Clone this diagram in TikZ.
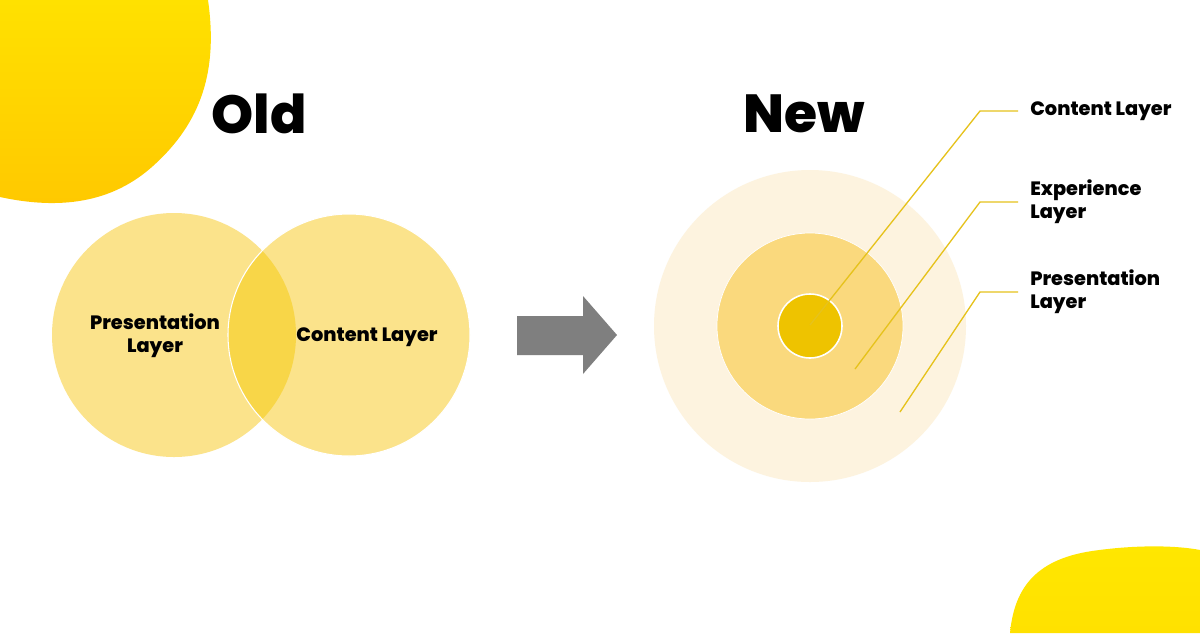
\documentclass[tikz,border=0pt]{standalone}
\usepackage{fontspec}
\setmainfont{Poppins}[BoldFont={* ExtraBold}]
\usetikzlibrary{arrows.meta}

\definecolor{blobtop}{HTML}{FFE100}
\definecolor{blobbottom}{HTML}{FFC800}
\definecolor{venn}{HTML}{FBE38B}
\definecolor{lens}{HTML}{F8D648}
\definecolor{ringout}{HTML}{FDF3DF}
\definecolor{ringmid}{HTML}{FAD97D}
\definecolor{core}{HTML}{EEC300}
\definecolor{leader}{HTML}{E6C21C}
\definecolor{arrowgray}{HTML}{7F7F7F}

\begin{document}
\begin{tikzpicture}[x=0.02cm, y=-0.02cm]
	\useasboundingbox (0,0) rectangle (1200,633);
	\fill[white] (0,0) rectangle (1200,633);
	% corner blobs
	\shade[top color=blobtop, bottom color=blobbottom] (0,0) -- (208,0)
		.. controls (218,70) and (202,122) .. (153,166)
		.. controls (112,203) and (60,210) .. (0,197) -- cycle;
	\shade[top color=blobtop!80!yellow, bottom color=blobtop] (1010,633)
		.. controls (1014,592) and (1032,560) .. (1092,551)
		.. controls (1140,544) and (1180,546) .. (1200,550) -- (1200,633) -- cycle;
	% old: two circles
	\fill[venn] (174,335) circle (122);
	\fill[venn] (349,335) circle (121);
	\begin{scope}
		\clip (174,335) circle (122);
		\fill[lens] (349,335) circle (121);
	\end{scope}
	\draw[white, line width=0.6pt] (349,335) circle (121);
	% arrow
	\fill[arrowgray] (517,316) -- (583,316) -- (583,296) -- (617,335)
		-- (583,374) -- (583,355) -- (517,355) -- cycle;
	% new: rings
	\fill[ringout] (810,326) circle (156);
	\draw[fill=ringmid, draw=white, line width=0.4pt] (810,326) circle (93);
	\draw[fill=core, draw=white, line width=0.9pt] (810,326) circle (32);
	\coordinate (cstart) at (810,325);
	\coordinate (cbend) at (980,111);
	\coordinate (estart) at (855,369);
	\coordinate (ebend) at (980,202);
	\coordinate (pstart) at (900,412);
	\coordinate (pbend) at (980,292);
	\begin{scope}[every node/.style={font=\bfseries\fontsize{11}{13}\selectfont, align=left}]
		\node (oldpres) at (155,336) [align=center] {Presentation\\Layer};
		\node (oldcont) at (367,337) {Content Layer};
		\node [anchor=west, inner xsep=6.8pt, inner ysep=0pt] (contlbl) at (1018,111) {Content Layer};
		\node [anchor=west, inner xsep=6.8pt, inner ysep=0pt] (explbl) at (1018,202) {Experience\\Layer};
		\node [anchor=west, inner xsep=6.8pt, inner ysep=0pt] (preslbl) at (1018,292) {Presentation\\Layer};
	\end{scope}
	\begin{scope}[every node/.style={font=\bfseries\fontsize{30.5}{37}\selectfont}]
		\node (old) at (259,114) {Old};
		\node (new) at (804,114) {New};
	\end{scope}
	\begin{scope}[every path/.style={draw=leader, line width=0.75pt}]
		\path (cstart) -- (cbend) -- (contlbl.west);
		\path (estart) -- (ebend) -- (explbl.west);
		\path (pstart) -- (pbend) -- (preslbl.west);
	\end{scope}
\end{tikzpicture}
\end{document}
